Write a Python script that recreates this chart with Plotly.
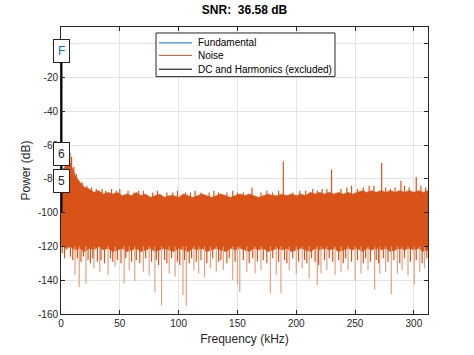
import plotly.graph_objects as go

# ---------------- data ----------------
title_text = "SNR:  36.58 dB"
x_ticks = [0, 50, 100, 150, 200, 250, 300]
x_tick_text = ["0", "50", "100", "150", "200", "250", "300"]
y_ticks = [-160, -140, -120, -100, -80, -60, -40, -20, 0]
y_tick_text = ["-160", "-140", "-120", "-100", "-80", "-60", "-40", "-20", "0"]
legend_names = ["Fundamental", "Noise", "DC and Harmonics (excluded)"]

# noise band envelope (kHz, dB)
env_freq = [0, 4, 8, 12, 16, 20, 24, 28, 32, 36, 40, 44, 48, 52, 56, 60, 64, 68, 72, 76,
            80, 84, 88, 92, 96, 100, 104, 108, 112, 116, 120, 124, 128, 132, 136, 140, 144, 148, 152, 156,
            160, 164, 168, 172, 176, 180, 184, 188, 192, 196, 200, 204, 208, 212, 216, 220, 224, 228, 232, 236,
            240, 244, 248, 252, 256, 260, 264, 268, 272, 276, 280, 284, 288, 292, 296, 300, 304, 308, 312]
env_upper = [-76, -72, -71, -78, -82, -85, -86, -88, -87, -89, -88, -89, -88, -90, -89, -90, -88, -90, -89, -91,
             -90, -89, -91, -90, -90, -91, -89, -90, -91, -90, -89, -90, -91, -90, -89, -90, -91, -90, -89, -90,
             -89, -90, -91, -90, -89, -90, -90, -89, -90, -89, -90, -89, -90, -88, -89, -88, -89, -88, -89, -88,
             -89, -88, -89, -88, -87, -88, -87, -88, -87, -88, -87, -88, -87, -88, -87, -88, -87, -88, -87]
env_lower = [-119, -121, -120, -122, -121, -123, -121, -122, -120, -122, -121, -123, -122, -121, -123, -122, -121, -123, -122, -121,
             -123, -122, -121, -122, -123, -121, -122, -123, -121, -122, -121, -123, -122, -121, -122, -123, -121, -122, -121, -122,
             -123, -121, -122, -121, -123, -122, -121, -122, -121, -123, -122, -121, -122, -123, -121, -122, -121, -122, -121, -123,
             -122, -121, -122, -121, -123, -121, -122, -121, -122, -121, -123, -122, -121, -122, -121, -122, -121, -123, -122]

# upward spikes above the band (kHz, peak dB)
spike_up_freq = [2, 6, 7.6, 9, 11, 13, 18, 22, 26, 30, 35, 38, 43, 47, 50, 57, 62, 66, 70, 78,
                 82, 90, 95, 99, 106, 110, 114, 119, 126, 130, 134, 141, 146, 150, 155, 162.4, 170, 175, 180, 185,
                 189, 197, 203, 208, 214, 218, 222, 226, 230, 238, 243, 247, 252, 257, 262, 266, 272.6, 276, 280, 284,
                 289, 292, 296, 302, 306, 310]
spike_up_db = [-74, -69, -64.5, -67, -73, -77, -82, -84, -85, -86, -86, -87, -86, -87, -86, -87, -88, -87, -87, -88,
               -87, -88, -88, -87, -88, -88, -87, -88, -88, -87, -88, -88, -87, -88, -88, -85, -88, -87, -88, -87,
               -69.6, -88, -87, -87, -86, -87, -86, -86, -74.4, -86, -85, -84, -86, -85, -84, -84, -70.5, -85, -86, -85,
               -81, -84, -85, -79, -84, -85]

# shallow dips below the band (kHz, dB)
dip_freq = [1, 3, 5, 8, 10, 14, 17, 19, 23, 25, 27, 31, 34, 37, 42, 44, 48, 51, 55, 60,
            64, 67, 72, 77, 81, 83, 88, 90, 94, 99, 101, 105, 109, 111, 115, 119, 124, 129, 134, 136,
            141, 143, 148, 155, 160, 163, 167, 172, 175, 180, 185, 190, 192, 197, 202, 207, 209, 213, 216, 219,
            224, 228, 231, 236, 240, 242, 247, 252, 257, 259, 263, 268, 270, 274, 278, 283, 288, 292, 297, 302,
            307, 311]
dip_db = [-124, -127, -122, -126, -128, -127, -129, -126, -128, -130, -127, -129, -128, -130, -127, -129, -128, -130, -127, -129,
          -128, -130, -127, -129, -128, -131, -128, -130, -127, -129, -131, -128, -130, -127, -129, -128, -130, -127, -129, -128,
          -130, -127, -129, -128, -130, -127, -129, -128, -130, -127, -129, -128, -130, -127, -129, -128, -130, -127, -129, -131,
          -128, -127, -129, -128, -130, -127, -129, -128, -130, -127, -129, -128, -130, -127, -129, -128, -130, -127, -129, -128,
          -130, -127]

# deep dips (kHz, dB)
deep_freq = [11.9, 15.5, 21.2, 28, 33, 40, 46, 53.7, 58, 62.7, 70, 75, 79.8, 85.5, 92, 97, 103.7, 106.5, 113, 117,
             122, 127, 132, 138, 146, 150, 152, 158, 165, 170, 178, 183, 187, 194, 200, 205, 211, 217.9, 221, 226,
             233, 238, 244, 250, 255, 261, 266.6, 271, 276, 280.8, 286, 290, 295, 300.3, 305, 309]
deep_db = [-137, -144, -142, -133, -135, -137, -132, -142, -134, -140.5, -135, -137, -147, -155, -136, -138, -148.7, -155, -134, -136,
           -138, -133, -135, -134, -140, -142.5, -147, -135, -136, -134, -147.7, -137, -147.7, -134, -136, -133, -139, -142.8, -136, -134,
           -137, -135, -134, -140, -136, -134, -145.5, -136, -135, -148.5, -136, -134, -137, -142.7, -135, -133]

# fundamental and DC / harmonics
fund_freq = [0.3, 0.3]
fund_db = [-100, -4]
harm_freq = [0.6, 0.6]
harm_db = [-100, -8]

# labels on the left edge
label_text = ["F", "6", "5"]
label_db = [-4, -65, -81]
label_color = ["#0072BD", "#262626", "#262626"]

ORANGE = "#D95319"
LIGHT = "#E6A07F"
BLUE = "#0072BD"
AX = "#262626"
FONT = "Liberation Sans, Arial"
legend_colors = [BLUE, ORANGE, "black"]


def seg(freqs, tops, base):
    xs, ys = [], []
    for f, t in zip(freqs, tops):
        xs += [f, f, None]
        ys += [base, t, None]
    return xs, ys


fig = go.Figure()

# noise band polygon
fig.add_trace(go.Scatter(
    x=env_freq + env_freq[::-1], y=env_upper + env_lower[::-1],
    mode="lines", fill="toself", fillcolor=ORANGE,
    line=dict(color=ORANGE, width=0.8), showlegend=False, hoverinfo="skip"))

xd, yd = seg(deep_freq, deep_db, -120)
fig.add_trace(go.Scatter(x=xd, y=yd, mode="lines", line=dict(color=LIGHT, width=1.2),
                         showlegend=False, hoverinfo="skip"))
xs_, ys_ = seg(dip_freq, dip_db, -118)
fig.add_trace(go.Scatter(x=xs_, y=ys_, mode="lines", line=dict(color=ORANGE, width=1.2),
                         showlegend=False, hoverinfo="skip"))
xu, yu = seg(spike_up_freq, spike_up_db, -100)
fig.add_trace(go.Scatter(x=xu, y=yu, mode="lines", line=dict(color=ORANGE, width=1.2),
                         showlegend=False, hoverinfo="skip"))

fig.add_trace(go.Scatter(x=fund_freq, y=fund_db, mode="lines", name=legend_names[0],
                         line=dict(color=BLUE, width=1), showlegend=False))
fig.add_trace(go.Scatter(x=harm_freq, y=harm_db, mode="lines", name=legend_names[2],
                         line=dict(color="black", width=1.5), showlegend=False))

for t, yv, c in zip(label_text, label_db, label_color):
    fig.add_annotation(x=0, y=yv, xref="x", yref="y", text=t, showarrow=False,
                       font=dict(family=FONT, size=12, color=c),
                       bgcolor="white", bordercolor=AX, borderwidth=1, borderpad=4,
                       xanchor="center", yanchor="middle")

# hand-drawn legend box (paper coordinates of the plot area)
leg_x0, leg_x1, leg_y0, leg_y1 = 0.2589, 0.7466, 0.827, 0.9792
row_y = [0.9446, 0.901, 0.853]
fig.add_shape(type="rect", xref="paper", yref="paper", x0=leg_x0, x1=leg_x1, y0=leg_y0, y1=leg_y1,
              line=dict(color=AX, width=1), fillcolor="white", layer="above")
for name, col, ry in zip(legend_names, legend_colors, row_y):
    fig.add_shape(type="line", xref="paper", yref="paper", x0=0.267, x1=0.357, y0=ry, y1=ry,
                  line=dict(color=col, width=1), layer="above")
    fig.add_annotation(x=0.3678, y=ry, xref="paper", yref="paper", text=name, showarrow=False,
                       xanchor="left", yanchor="middle",
                       font=dict(family=FONT, size=10, color="black"))

axis_common = dict(
    showline=True, linecolor=AX, linewidth=1, mirror="ticks",
    ticks="inside", ticklen=4, tickcolor=AX,
    showgrid=True, gridcolor="#E3E3E3", gridwidth=1, zeroline=False,
    tickfont=dict(family=FONT, size=10, color=AX),
)

fig.update_xaxes(range=[0, 312], tickvals=x_ticks, ticktext=x_tick_text,
                 title=dict(text="Frequency (kHz)", standoff=6,
                            font=dict(family=FONT, size=12, color=AX)),
                 **axis_common)
fig.update_yaxes(range=[-160, 10], tickvals=y_ticks, ticktext=y_tick_text,
                 title=dict(text="Power (dB)", standoff=4,
                            font=dict(family=FONT, size=12, color=AX)),
                 **axis_common)

fig.update_layout(
    width=474, height=355,
    margin=dict(l=61, r=46, t=27, b=39),
    paper_bgcolor="white", plot_bgcolor="white",
    title=dict(text="<b>" + title_text + "</b>", x=0.5, xref="paper", y=1 - 10 / 355,
               yref="container", xanchor="center", yanchor="middle",
               font=dict(family=FONT, size=12, color="black")),
    showlegend=False,
)

fig.write_html("out.html")
